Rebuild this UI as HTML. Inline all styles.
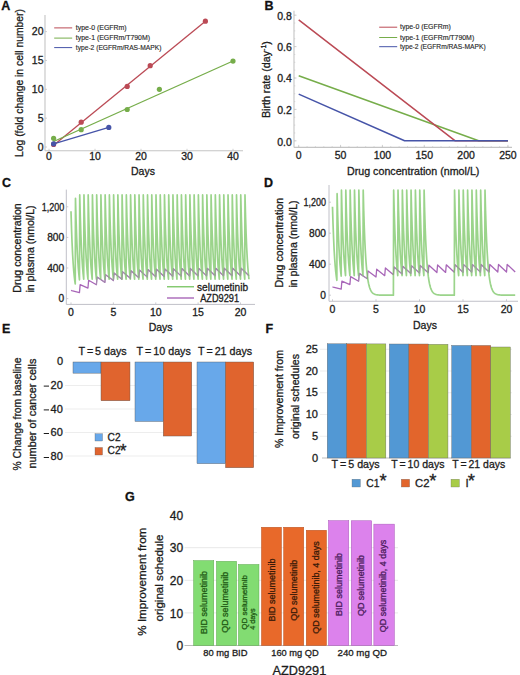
<!DOCTYPE html>
<html><head><meta charset="utf-8"><style>
html,body{margin:0;padding:0;background:#fff;width:520px;height:675px;overflow:hidden}
svg{display:block;font-family:"Liberation Sans", sans-serif}
</style></head><body>
<svg width="520" height="675" viewBox="0 0 520 675" style='font-family:"Liberation Sans", sans-serif'>
<rect width="520" height="675" fill="#fff"/>
<text x="1.30" y="9.97" font-size="12.5" fill="#111" stroke="#111" stroke-width="0.3" text-anchor="start" font-weight="bold" >A</text>
<text x="264.40" y="9.97" font-size="12.5" fill="#111" stroke="#111" stroke-width="0.3" text-anchor="start" font-weight="bold" >B</text>
<text x="2.00" y="187.47" font-size="12.5" fill="#111" stroke="#111" stroke-width="0.3" text-anchor="start" font-weight="bold" >C</text>
<text x="264.00" y="187.47" font-size="12.5" fill="#111" stroke="#111" stroke-width="0.3" text-anchor="start" font-weight="bold" >D</text>
<text x="2.00" y="333.48" font-size="12.5" fill="#111" stroke="#111" stroke-width="0.3" text-anchor="start" font-weight="bold" >E</text>
<text x="265.50" y="333.48" font-size="12.5" fill="#111" stroke="#111" stroke-width="0.3" text-anchor="start" font-weight="bold" >F</text>
<text x="125.00" y="501.48" font-size="12.5" fill="#111" stroke="#111" stroke-width="0.3" text-anchor="start" font-weight="bold" >G</text>
<line x1="45.00" y1="15.00" x2="45.00" y2="150.80" stroke="#c4c4c4" stroke-width="1.1" />
<line x1="45.00" y1="150.80" x2="243.00" y2="150.80" stroke="#c4c4c4" stroke-width="1.1" />
<text x="43.50" y="150.76" font-size="10.5" fill="#1c1c1c" stroke="#1c1c1c" stroke-width="0.3" text-anchor="end" >0</text>
<line x1="45.00" y1="147.00" x2="47.00" y2="147.00" stroke="#c4c4c4" stroke-width="0.8" />
<text x="43.50" y="122.26" font-size="10.5" fill="#1c1c1c" stroke="#1c1c1c" stroke-width="0.3" text-anchor="end" >5</text>
<line x1="45.00" y1="118.15" x2="47.00" y2="118.15" stroke="#c4c4c4" stroke-width="0.8" />
<text x="43.50" y="93.26" font-size="10.5" fill="#1c1c1c" stroke="#1c1c1c" stroke-width="0.3" text-anchor="end" >10</text>
<line x1="45.00" y1="89.30" x2="47.00" y2="89.30" stroke="#c4c4c4" stroke-width="0.8" />
<text x="43.50" y="64.26" font-size="10.5" fill="#1c1c1c" stroke="#1c1c1c" stroke-width="0.3" text-anchor="end" >15</text>
<line x1="45.00" y1="60.45" x2="47.00" y2="60.45" stroke="#c4c4c4" stroke-width="0.8" />
<text x="43.50" y="35.26" font-size="10.5" fill="#1c1c1c" stroke="#1c1c1c" stroke-width="0.3" text-anchor="end" >20</text>
<line x1="45.00" y1="31.60" x2="47.00" y2="31.60" stroke="#c4c4c4" stroke-width="0.8" />
<text x="49.00" y="160.26" font-size="10.5" fill="#1c1c1c" stroke="#1c1c1c" stroke-width="0.3" text-anchor="middle" >0</text>
<line x1="49.00" y1="150.80" x2="49.00" y2="148.80" stroke="#c4c4c4" stroke-width="0.8" />
<text x="95.00" y="160.26" font-size="10.5" fill="#1c1c1c" stroke="#1c1c1c" stroke-width="0.3" text-anchor="middle" >10</text>
<line x1="95.00" y1="150.80" x2="95.00" y2="148.80" stroke="#c4c4c4" stroke-width="0.8" />
<text x="141.00" y="160.26" font-size="10.5" fill="#1c1c1c" stroke="#1c1c1c" stroke-width="0.3" text-anchor="middle" >20</text>
<line x1="141.00" y1="150.80" x2="141.00" y2="148.80" stroke="#c4c4c4" stroke-width="0.8" />
<text x="187.00" y="160.26" font-size="10.5" fill="#1c1c1c" stroke="#1c1c1c" stroke-width="0.3" text-anchor="middle" >30</text>
<line x1="187.00" y1="150.80" x2="187.00" y2="148.80" stroke="#c4c4c4" stroke-width="0.8" />
<text x="233.00" y="160.26" font-size="10.5" fill="#1c1c1c" stroke="#1c1c1c" stroke-width="0.3" text-anchor="middle" >40</text>
<line x1="233.00" y1="150.80" x2="233.00" y2="148.80" stroke="#c4c4c4" stroke-width="0.8" />
<text x="143.00" y="174.76" font-size="10.5" fill="#1c1c1c" stroke="#1c1c1c" stroke-width="0.3" text-anchor="middle" >Days</text>
<text x="23.09" y="83.00" font-size="10.3" fill="#1c1c1c" stroke="#1c1c1c" stroke-width="0.3" text-anchor="middle" transform="rotate(-90 23.09 83.00)" textLength="148.00" lengthAdjust="spacingAndGlyphs">Log (fold change in cell number)</text>
<line x1="54.20" y1="27.90" x2="72.20" y2="27.90" stroke="#bb4a55" stroke-width="1.0" />
<line x1="54.20" y1="38.10" x2="72.20" y2="38.10" stroke="#76ad4a" stroke-width="1.0" />
<line x1="54.20" y1="47.60" x2="72.20" y2="47.60" stroke="#4654a8" stroke-width="1.0" />
<text x="75.80" y="30.01" font-size="7.3" fill="#2a2a2a" stroke="#2a2a2a" stroke-width="0.15" text-anchor="start" textLength="50.80" lengthAdjust="spacingAndGlyphs" >type-0 (EGFRm)</text>
<text x="75.80" y="40.21" font-size="7.3" fill="#2a2a2a" stroke="#2a2a2a" stroke-width="0.15" text-anchor="start" textLength="74.20" lengthAdjust="spacingAndGlyphs" >type-1 (EGFRm/T790M)</text>
<text x="75.80" y="49.71" font-size="7.3" fill="#2a2a2a" stroke="#2a2a2a" stroke-width="0.15" text-anchor="start" textLength="85.60" lengthAdjust="spacingAndGlyphs" >type-2 (EGFRm/RAS-MAPK)</text>
<line x1="53.60" y1="145.27" x2="205.40" y2="21.21" stroke="#bb4a55" stroke-width="1.3" />
<line x1="53.60" y1="141.52" x2="233.00" y2="61.03" stroke="#76ad4a" stroke-width="1.3" />
<line x1="53.60" y1="143.83" x2="108.80" y2="127.38" stroke="#4654a8" stroke-width="1.3" />
<circle cx="53.60" cy="144.40" r="2.6" fill="#bb4a55"/>
<circle cx="81.20" cy="122.19" r="2.6" fill="#bb4a55"/>
<circle cx="127.20" cy="86.42" r="2.6" fill="#bb4a55"/>
<circle cx="150.20" cy="65.64" r="2.6" fill="#bb4a55"/>
<circle cx="205.40" cy="21.21" r="2.6" fill="#bb4a55"/>
<circle cx="53.60" cy="138.34" r="2.6" fill="#76ad4a"/>
<circle cx="81.20" cy="129.69" r="2.6" fill="#76ad4a"/>
<circle cx="127.20" cy="109.50" r="2.6" fill="#76ad4a"/>
<circle cx="159.40" cy="89.30" r="2.6" fill="#76ad4a"/>
<circle cx="233.00" cy="61.03" r="2.6" fill="#76ad4a"/>
<circle cx="53.60" cy="143.83" r="2.6" fill="#4654a8"/>
<circle cx="108.80" cy="127.38" r="2.6" fill="#4654a8"/>
<line x1="294.00" y1="10.70" x2="294.00" y2="147.40" stroke="#c4c4c4" stroke-width="1.1" />
<line x1="294.00" y1="147.40" x2="512.00" y2="147.40" stroke="#c4c4c4" stroke-width="1.1" />
<text x="291.80" y="20.36" font-size="10.5" fill="#1c1c1c" stroke="#1c1c1c" stroke-width="0.3" text-anchor="end" >0.8</text>
<line x1="294.00" y1="15.20" x2="296.50" y2="15.20" stroke="#c4c4c4" stroke-width="0.8" />
<text x="291.80" y="51.16" font-size="10.5" fill="#1c1c1c" stroke="#1c1c1c" stroke-width="0.3" text-anchor="end" >0.6</text>
<line x1="294.00" y1="46.60" x2="296.50" y2="46.60" stroke="#c4c4c4" stroke-width="0.8" />
<text x="291.80" y="81.96" font-size="10.5" fill="#1c1c1c" stroke="#1c1c1c" stroke-width="0.3" text-anchor="end" >0.4</text>
<line x1="294.00" y1="78.00" x2="296.50" y2="78.00" stroke="#c4c4c4" stroke-width="0.8" />
<text x="291.80" y="113.96" font-size="10.5" fill="#1c1c1c" stroke="#1c1c1c" stroke-width="0.3" text-anchor="end" >0.2</text>
<line x1="294.00" y1="109.40" x2="296.50" y2="109.40" stroke="#c4c4c4" stroke-width="0.8" />
<text x="291.80" y="145.96" font-size="10.5" fill="#1c1c1c" stroke="#1c1c1c" stroke-width="0.3" text-anchor="end" >0.0</text>
<line x1="294.00" y1="140.80" x2="296.50" y2="140.80" stroke="#c4c4c4" stroke-width="0.8" />
<line x1="294.00" y1="140.80" x2="295.30" y2="140.80" stroke="#c4c4c4" stroke-width="0.6" />
<line x1="294.00" y1="132.95" x2="295.30" y2="132.95" stroke="#c4c4c4" stroke-width="0.6" />
<line x1="294.00" y1="125.10" x2="295.30" y2="125.10" stroke="#c4c4c4" stroke-width="0.6" />
<line x1="294.00" y1="117.25" x2="295.30" y2="117.25" stroke="#c4c4c4" stroke-width="0.6" />
<line x1="294.00" y1="109.40" x2="295.30" y2="109.40" stroke="#c4c4c4" stroke-width="0.6" />
<line x1="294.00" y1="101.55" x2="295.30" y2="101.55" stroke="#c4c4c4" stroke-width="0.6" />
<line x1="294.00" y1="93.70" x2="295.30" y2="93.70" stroke="#c4c4c4" stroke-width="0.6" />
<line x1="294.00" y1="85.85" x2="295.30" y2="85.85" stroke="#c4c4c4" stroke-width="0.6" />
<line x1="294.00" y1="78.00" x2="295.30" y2="78.00" stroke="#c4c4c4" stroke-width="0.6" />
<line x1="294.00" y1="70.15" x2="295.30" y2="70.15" stroke="#c4c4c4" stroke-width="0.6" />
<line x1="294.00" y1="62.30" x2="295.30" y2="62.30" stroke="#c4c4c4" stroke-width="0.6" />
<line x1="294.00" y1="54.45" x2="295.30" y2="54.45" stroke="#c4c4c4" stroke-width="0.6" />
<line x1="294.00" y1="46.60" x2="295.30" y2="46.60" stroke="#c4c4c4" stroke-width="0.6" />
<line x1="294.00" y1="38.75" x2="295.30" y2="38.75" stroke="#c4c4c4" stroke-width="0.6" />
<line x1="294.00" y1="30.90" x2="295.30" y2="30.90" stroke="#c4c4c4" stroke-width="0.6" />
<line x1="294.00" y1="23.05" x2="295.30" y2="23.05" stroke="#c4c4c4" stroke-width="0.6" />
<line x1="294.00" y1="15.20" x2="295.30" y2="15.20" stroke="#c4c4c4" stroke-width="0.6" />
<text x="298.70" y="158.96" font-size="10.5" fill="#1c1c1c" stroke="#1c1c1c" stroke-width="0.3" text-anchor="middle" >0</text>
<line x1="298.70" y1="147.40" x2="298.70" y2="144.90" stroke="#c4c4c4" stroke-width="0.8" />
<text x="340.55" y="158.96" font-size="10.5" fill="#1c1c1c" stroke="#1c1c1c" stroke-width="0.3" text-anchor="middle" >50</text>
<line x1="340.55" y1="147.40" x2="340.55" y2="144.90" stroke="#c4c4c4" stroke-width="0.8" />
<text x="382.40" y="158.96" font-size="10.5" fill="#1c1c1c" stroke="#1c1c1c" stroke-width="0.3" text-anchor="middle" >100</text>
<line x1="382.40" y1="147.40" x2="382.40" y2="144.90" stroke="#c4c4c4" stroke-width="0.8" />
<text x="424.25" y="158.96" font-size="10.5" fill="#1c1c1c" stroke="#1c1c1c" stroke-width="0.3" text-anchor="middle" >150</text>
<line x1="424.25" y1="147.40" x2="424.25" y2="144.90" stroke="#c4c4c4" stroke-width="0.8" />
<text x="466.10" y="158.96" font-size="10.5" fill="#1c1c1c" stroke="#1c1c1c" stroke-width="0.3" text-anchor="middle" >200</text>
<line x1="466.10" y1="147.40" x2="466.10" y2="144.90" stroke="#c4c4c4" stroke-width="0.8" />
<text x="507.95" y="158.96" font-size="10.5" fill="#1c1c1c" stroke="#1c1c1c" stroke-width="0.3" text-anchor="middle" >250</text>
<line x1="507.95" y1="147.40" x2="507.95" y2="144.90" stroke="#c4c4c4" stroke-width="0.8" />
<line x1="298.70" y1="147.40" x2="298.70" y2="146.10" stroke="#c4c4c4" stroke-width="0.6" />
<line x1="307.07" y1="147.40" x2="307.07" y2="146.10" stroke="#c4c4c4" stroke-width="0.6" />
<line x1="315.44" y1="147.40" x2="315.44" y2="146.10" stroke="#c4c4c4" stroke-width="0.6" />
<line x1="323.81" y1="147.40" x2="323.81" y2="146.10" stroke="#c4c4c4" stroke-width="0.6" />
<line x1="332.18" y1="147.40" x2="332.18" y2="146.10" stroke="#c4c4c4" stroke-width="0.6" />
<line x1="340.55" y1="147.40" x2="340.55" y2="146.10" stroke="#c4c4c4" stroke-width="0.6" />
<line x1="348.92" y1="147.40" x2="348.92" y2="146.10" stroke="#c4c4c4" stroke-width="0.6" />
<line x1="357.29" y1="147.40" x2="357.29" y2="146.10" stroke="#c4c4c4" stroke-width="0.6" />
<line x1="365.66" y1="147.40" x2="365.66" y2="146.10" stroke="#c4c4c4" stroke-width="0.6" />
<line x1="374.03" y1="147.40" x2="374.03" y2="146.10" stroke="#c4c4c4" stroke-width="0.6" />
<line x1="382.40" y1="147.40" x2="382.40" y2="146.10" stroke="#c4c4c4" stroke-width="0.6" />
<line x1="390.77" y1="147.40" x2="390.77" y2="146.10" stroke="#c4c4c4" stroke-width="0.6" />
<line x1="399.14" y1="147.40" x2="399.14" y2="146.10" stroke="#c4c4c4" stroke-width="0.6" />
<line x1="407.51" y1="147.40" x2="407.51" y2="146.10" stroke="#c4c4c4" stroke-width="0.6" />
<line x1="415.88" y1="147.40" x2="415.88" y2="146.10" stroke="#c4c4c4" stroke-width="0.6" />
<line x1="424.25" y1="147.40" x2="424.25" y2="146.10" stroke="#c4c4c4" stroke-width="0.6" />
<line x1="432.62" y1="147.40" x2="432.62" y2="146.10" stroke="#c4c4c4" stroke-width="0.6" />
<line x1="440.99" y1="147.40" x2="440.99" y2="146.10" stroke="#c4c4c4" stroke-width="0.6" />
<line x1="449.36" y1="147.40" x2="449.36" y2="146.10" stroke="#c4c4c4" stroke-width="0.6" />
<line x1="457.73" y1="147.40" x2="457.73" y2="146.10" stroke="#c4c4c4" stroke-width="0.6" />
<line x1="466.10" y1="147.40" x2="466.10" y2="146.10" stroke="#c4c4c4" stroke-width="0.6" />
<line x1="474.47" y1="147.40" x2="474.47" y2="146.10" stroke="#c4c4c4" stroke-width="0.6" />
<line x1="482.84" y1="147.40" x2="482.84" y2="146.10" stroke="#c4c4c4" stroke-width="0.6" />
<line x1="491.21" y1="147.40" x2="491.21" y2="146.10" stroke="#c4c4c4" stroke-width="0.6" />
<line x1="499.58" y1="147.40" x2="499.58" y2="146.10" stroke="#c4c4c4" stroke-width="0.6" />
<line x1="507.95" y1="147.40" x2="507.95" y2="146.10" stroke="#c4c4c4" stroke-width="0.6" />
<text x="413.20" y="174.79" font-size="10.6" fill="#1c1c1c" stroke="#1c1c1c" stroke-width="0.3" text-anchor="middle" textLength="132.40" lengthAdjust="spacingAndGlyphs" >Drug concentration (nmol/L)</text>
<text x="270.29" y="79.60" font-size="10.6" fill="#1c1c1c" stroke="#1c1c1c" stroke-width="0.3" text-anchor="middle" transform="rotate(-90 270.29 79.60)" textLength="77.00" lengthAdjust="spacingAndGlyphs">Birth rate (day<tspan font-size="7" dy="-4">-1</tspan><tspan dy="4">)</tspan></text>
<line x1="379.20" y1="27.20" x2="397.20" y2="27.20" stroke="#bb4a55" stroke-width="1.0" />
<line x1="379.20" y1="37.50" x2="397.20" y2="37.50" stroke="#76ad4a" stroke-width="1.0" />
<line x1="379.20" y1="46.70" x2="397.20" y2="46.70" stroke="#4654a8" stroke-width="1.0" />
<text x="400.00" y="29.31" font-size="7.3" fill="#2a2a2a" stroke="#2a2a2a" stroke-width="0.15" text-anchor="start" textLength="50.80" lengthAdjust="spacingAndGlyphs" >type-0 (EGFRm)</text>
<text x="400.00" y="39.61" font-size="7.3" fill="#2a2a2a" stroke="#2a2a2a" stroke-width="0.15" text-anchor="start" textLength="74.20" lengthAdjust="spacingAndGlyphs" >type-1 (EGFRm/T790M)</text>
<text x="400.00" y="48.81" font-size="7.3" fill="#2a2a2a" stroke="#2a2a2a" stroke-width="0.15" text-anchor="start" textLength="85.60" lengthAdjust="spacingAndGlyphs" >type-2 (EGFRm/RAS-MAPK)</text>
<polyline points="298.70,75.80 478.65,140.80 507.95,140.80" fill="none" stroke="#76ad4a" stroke-width="1.5" stroke-linejoin="round" />
<polyline points="298.70,19.91 455.22,140.80 507.95,140.80" fill="none" stroke="#bb4a55" stroke-width="1.5" stroke-linejoin="round" />
<polyline points="298.70,94.17 404.58,140.80 507.95,140.80" fill="none" stroke="#4654a8" stroke-width="1.5" stroke-linejoin="round" />
<line x1="66.30" y1="189.60" x2="66.30" y2="304.40" stroke="#c0c0c8" stroke-width="1.0" />
<line x1="66.30" y1="304.40" x2="255.00" y2="304.40" stroke="#c0c0c8" stroke-width="1.0" />
<text x="64.20" y="210.95" font-size="10.2" fill="#1c1c1c" stroke="#1c1c1c" stroke-width="0.3" text-anchor="end" textLength="22.50" lengthAdjust="spacingAndGlyphs" >1,200</text>
<line x1="66.30" y1="206.80" x2="68.30" y2="206.80" stroke="#c0c0c8" stroke-width="0.8" />
<text x="64.20" y="241.45" font-size="10.2" fill="#1c1c1c" stroke="#1c1c1c" stroke-width="0.3" text-anchor="end" >800</text>
<line x1="66.30" y1="237.40" x2="68.30" y2="237.40" stroke="#c0c0c8" stroke-width="0.8" />
<text x="64.20" y="271.65" font-size="10.2" fill="#1c1c1c" stroke="#1c1c1c" stroke-width="0.3" text-anchor="end" >400</text>
<line x1="66.30" y1="268.00" x2="68.30" y2="268.00" stroke="#c0c0c8" stroke-width="0.8" />
<text x="64.20" y="302.15" font-size="10.2" fill="#1c1c1c" stroke="#1c1c1c" stroke-width="0.3" text-anchor="end" >0</text>
<line x1="66.30" y1="298.60" x2="68.30" y2="298.60" stroke="#c0c0c8" stroke-width="0.8" />
<text x="71.00" y="316.26" font-size="10.5" fill="#1c1c1c" stroke="#1c1c1c" stroke-width="0.3" text-anchor="middle" >0</text>
<line x1="71.00" y1="304.40" x2="71.00" y2="302.40" stroke="#c0c0c8" stroke-width="0.8" />
<text x="113.38" y="316.26" font-size="10.5" fill="#1c1c1c" stroke="#1c1c1c" stroke-width="0.3" text-anchor="middle" >5</text>
<line x1="113.38" y1="304.40" x2="113.38" y2="302.40" stroke="#c0c0c8" stroke-width="0.8" />
<text x="155.75" y="316.26" font-size="10.5" fill="#1c1c1c" stroke="#1c1c1c" stroke-width="0.3" text-anchor="middle" >10</text>
<line x1="155.75" y1="304.40" x2="155.75" y2="302.40" stroke="#c0c0c8" stroke-width="0.8" />
<text x="198.12" y="316.26" font-size="10.5" fill="#1c1c1c" stroke="#1c1c1c" stroke-width="0.3" text-anchor="middle" >15</text>
<line x1="198.12" y1="304.40" x2="198.12" y2="302.40" stroke="#c0c0c8" stroke-width="0.8" />
<text x="240.50" y="316.26" font-size="10.5" fill="#1c1c1c" stroke="#1c1c1c" stroke-width="0.3" text-anchor="middle" >20</text>
<line x1="240.50" y1="304.40" x2="240.50" y2="302.40" stroke="#c0c0c8" stroke-width="0.8" />
<text x="160.60" y="331.36" font-size="10.5" fill="#1c1c1c" stroke="#1c1c1c" stroke-width="0.3" text-anchor="middle" >Days</text>
<text x="20.99" y="248.00" font-size="10.6" fill="#1c1c1c" stroke="#1c1c1c" stroke-width="0.3" text-anchor="middle" transform="rotate(-90 20.99 248.00)">Drug concentration</text>
<text x="33.69" y="249.00" font-size="10.6" fill="#1c1c1c" stroke="#1c1c1c" stroke-width="0.3" text-anchor="middle" transform="rotate(-90 33.69 249.00)">in plasma (nmol/L)</text>
<polyline points="71.00,290.34 71.68,290.54 79.47,292.53 80.15,284.61 87.95,288.06 88.63,280.26 96.42,284.78 97.10,277.06 104.90,282.37 105.58,274.71 113.37,280.60 114.05,272.98 121.85,279.30 122.53,271.71 130.32,278.34 131.00,270.77 138.80,277.64 139.48,270.09 147.27,277.12 147.95,269.58 155.75,276.74 156.43,269.21 164.22,276.46 164.90,268.94 172.70,276.25 173.38,268.74 181.17,276.10 181.85,268.59 189.65,275.99 190.33,268.48 198.12,275.91 198.80,268.40 206.60,275.85 207.28,268.34 215.07,275.81 215.75,268.30 223.55,275.77 224.23,268.27 232.02,275.75 232.70,268.25 240.50,275.73 241.18,268.23 248.97,275.72 248.97,275.72" fill="none" stroke="#a866b8" stroke-width="1.3" stroke-linejoin="round" />
<polyline points="71.00,211.24 71.53,228.70 72.06,242.67 72.59,253.85 73.12,262.79 73.65,269.95 74.18,275.67 74.71,280.26 75.24,283.92 75.49,198.39 76.06,219.73 76.63,236.53 77.20,249.75 77.77,260.16 78.34,268.35 78.91,274.79 79.47,279.86 79.73,194.94 80.30,217.02 80.87,234.40 81.44,248.07 82.01,258.84 82.57,267.31 83.14,273.97 83.71,279.22 83.97,194.94 84.54,217.02 85.10,234.40 85.67,248.07 86.24,258.84 86.81,267.31 87.38,273.97 87.95,279.22 88.20,194.94 88.77,217.02 89.34,234.40 89.91,248.07 90.48,258.84 91.05,267.31 91.62,273.97 92.19,279.22 92.44,194.94 93.01,217.02 93.58,234.40 94.15,248.07 94.72,258.84 95.29,267.31 95.86,273.97 96.42,279.22 96.68,194.94 97.25,217.02 97.82,234.40 98.39,248.07 98.96,258.84 99.52,267.31 100.09,273.97 100.66,279.22 100.92,194.94 101.49,217.02 102.05,234.40 102.62,248.07 103.19,258.84 103.76,267.31 104.33,273.97 104.90,279.22 105.15,194.94 105.72,217.02 106.29,234.40 106.86,248.07 107.43,258.84 108.00,267.31 108.57,273.97 109.14,279.22 109.39,194.94 109.96,217.02 110.53,234.40 111.10,248.07 111.67,258.84 112.24,267.31 112.81,273.97 113.38,279.22 113.63,194.94 114.20,217.02 114.77,234.40 115.34,248.07 115.91,258.84 116.47,267.31 117.04,273.97 117.61,279.22 117.87,194.94 118.44,217.02 119.00,234.40 119.57,248.07 120.14,258.84 120.71,267.31 121.28,273.97 121.85,279.22 122.10,194.94 122.67,217.02 123.24,234.40 123.81,248.07 124.38,258.84 124.95,267.31 125.52,273.97 126.09,279.22 126.34,194.94 126.91,217.02 127.48,234.40 128.05,248.07 128.62,258.84 129.19,267.31 129.76,273.97 130.32,279.22 130.58,194.94 131.15,217.02 131.72,234.40 132.29,248.07 132.86,258.84 133.42,267.31 133.99,273.97 134.56,279.22 134.82,194.94 135.39,217.02 135.95,234.40 136.52,248.07 137.09,258.84 137.66,267.31 138.23,273.97 138.80,279.22 139.05,194.94 139.62,217.02 140.19,234.40 140.76,248.07 141.33,258.84 141.90,267.31 142.47,273.97 143.04,279.22 143.29,194.94 143.86,217.02 144.43,234.40 145.00,248.07 145.57,258.84 146.14,267.31 146.71,273.97 147.27,279.22 147.53,194.94 148.10,217.02 148.67,234.40 149.24,248.07 149.81,258.84 150.37,267.31 150.94,273.97 151.51,279.22 151.77,194.94 152.34,217.02 152.90,234.40 153.47,248.07 154.04,258.84 154.61,267.31 155.18,273.97 155.75,279.22 156.00,194.94 156.57,217.02 157.14,234.40 157.71,248.07 158.28,258.84 158.85,267.31 159.42,273.97 159.99,279.22 160.24,194.94 160.81,217.02 161.38,234.40 161.95,248.07 162.52,258.84 163.09,267.31 163.66,273.97 164.22,279.22 164.48,194.94 165.05,217.02 165.62,234.40 166.19,248.07 166.76,258.84 167.32,267.31 167.89,273.97 168.46,279.22 168.72,194.94 169.29,217.02 169.85,234.40 170.42,248.07 170.99,258.84 171.56,267.31 172.13,273.97 172.70,279.22 172.95,194.94 173.52,217.02 174.09,234.40 174.66,248.07 175.23,258.84 175.80,267.31 176.37,273.97 176.94,279.22 177.19,194.94 177.76,217.02 178.33,234.40 178.90,248.07 179.47,258.84 180.04,267.31 180.61,273.97 181.18,279.22 181.43,194.94 182.00,217.02 182.57,234.40 183.14,248.07 183.71,258.84 184.27,267.31 184.84,273.97 185.41,279.22 185.67,194.94 186.24,217.02 186.80,234.40 187.37,248.07 187.94,258.84 188.51,267.31 189.08,273.97 189.65,279.22 189.90,194.94 190.47,217.02 191.04,234.40 191.61,248.07 192.18,258.84 192.75,267.31 193.32,273.97 193.89,279.22 194.14,194.94 194.71,217.02 195.28,234.40 195.85,248.07 196.42,258.84 196.99,267.31 197.56,273.97 198.12,279.22 198.38,194.94 198.95,217.02 199.52,234.40 200.09,248.07 200.66,258.84 201.22,267.31 201.79,273.97 202.36,279.22 202.62,194.94 203.19,217.02 203.75,234.40 204.32,248.07 204.89,258.84 205.46,267.31 206.03,273.97 206.60,279.22 206.85,194.94 207.42,217.02 207.99,234.40 208.56,248.07 209.13,258.84 209.70,267.31 210.27,273.97 210.84,279.22 211.09,194.94 211.66,217.02 212.23,234.40 212.80,248.07 213.37,258.84 213.94,267.31 214.51,273.97 215.07,279.22 215.33,194.94 215.90,217.02 216.47,234.40 217.04,248.07 217.61,258.84 218.17,267.31 218.74,273.97 219.31,279.22 219.57,194.94 220.14,217.02 220.70,234.40 221.27,248.07 221.84,258.84 222.41,267.31 222.98,273.97 223.55,279.22 223.80,194.94 224.37,217.02 224.94,234.40 225.51,248.07 226.08,258.84 226.65,267.31 227.22,273.97 227.79,279.22 228.04,194.94 228.61,217.02 229.18,234.40 229.75,248.07 230.32,258.84 230.89,267.31 231.46,273.97 232.03,279.22 232.28,194.94 232.85,217.02 233.42,234.40 233.99,248.07 234.56,258.84 235.12,267.31 235.69,273.97 236.26,279.22 236.52,194.94 237.09,217.02 237.65,234.40 238.22,248.07 238.79,258.84 239.36,267.31 239.93,273.97 240.50,279.22 240.75,194.94 241.32,217.02 241.89,234.40 242.46,248.07 243.03,258.84 243.60,267.31 244.17,273.97 244.74,279.22 244.99,194.94 245.56,217.02 246.13,234.40 246.70,248.07 247.27,258.84 247.84,267.31 248.41,273.97 248.97,279.22" fill="none" stroke="#7fc86a" stroke-width="1.7" stroke-linejoin="round" stroke-opacity="0.78"/>
<polyline points="96.42,284.78 97.10,277.06 104.90,282.37 105.58,274.71 113.37,280.60 114.05,272.98 121.85,279.30 122.53,271.71 130.32,278.34 131.00,270.77 138.80,277.64 139.48,270.09 147.27,277.12 147.95,269.58 155.75,276.74 156.43,269.21 164.22,276.46 164.90,268.94 172.70,276.25 173.38,268.74 181.17,276.10 181.85,268.59 189.65,275.99 190.33,268.48 198.12,275.91 198.80,268.40 206.60,275.85 207.28,268.34 215.07,275.81 215.75,268.30 223.55,275.77 224.23,268.27 232.02,275.75 232.70,268.25 240.50,275.73 241.18,268.23 248.97,275.72 248.97,275.72" fill="none" stroke="#a29ca8" stroke-width="1.0" stroke-linejoin="round" stroke-opacity="0.75"/>
<line x1="167.00" y1="286.75" x2="194.00" y2="286.75" stroke="#7fc86a" stroke-width="1.4" />
<line x1="167.00" y1="298.00" x2="194.00" y2="298.00" stroke="#a866b8" stroke-width="1.4" />
<text x="197.00" y="290.76" font-size="10.5" fill="#1c1c1c" stroke="#1c1c1c" stroke-width="0.3" text-anchor="start" textLength="51.00" lengthAdjust="spacingAndGlyphs" >selumetinib</text>
<text x="200.20" y="301.76" font-size="10.5" fill="#1c1c1c" stroke="#1c1c1c" stroke-width="0.3" text-anchor="start" textLength="38.80" lengthAdjust="spacingAndGlyphs" >AZD9291</text>
<line x1="329.00" y1="185.00" x2="329.00" y2="301.25" stroke="#c0c0c8" stroke-width="1.0" />
<line x1="329.00" y1="301.25" x2="518.00" y2="301.25" stroke="#c0c0c8" stroke-width="1.0" />
<text x="326.00" y="205.95" font-size="10.2" fill="#1c1c1c" stroke="#1c1c1c" stroke-width="0.3" text-anchor="end" textLength="22.50" lengthAdjust="spacingAndGlyphs" >1,200</text>
<line x1="329.00" y1="202.20" x2="331.00" y2="202.20" stroke="#c0c0c8" stroke-width="0.8" />
<text x="326.00" y="236.65" font-size="10.2" fill="#1c1c1c" stroke="#1c1c1c" stroke-width="0.3" text-anchor="end" >800</text>
<line x1="329.00" y1="233.20" x2="331.00" y2="233.20" stroke="#c0c0c8" stroke-width="0.8" />
<text x="326.00" y="268.05" font-size="10.2" fill="#1c1c1c" stroke="#1c1c1c" stroke-width="0.3" text-anchor="end" >400</text>
<line x1="329.00" y1="264.20" x2="331.00" y2="264.20" stroke="#c0c0c8" stroke-width="0.8" />
<text x="326.00" y="298.65" font-size="10.2" fill="#1c1c1c" stroke="#1c1c1c" stroke-width="0.3" text-anchor="end" >0</text>
<line x1="329.00" y1="295.20" x2="331.00" y2="295.20" stroke="#c0c0c8" stroke-width="0.8" />
<text x="332.50" y="313.26" font-size="10.5" fill="#1c1c1c" stroke="#1c1c1c" stroke-width="0.3" text-anchor="middle" >0</text>
<line x1="332.50" y1="301.25" x2="332.50" y2="299.25" stroke="#c0c0c8" stroke-width="0.8" />
<text x="376.00" y="313.26" font-size="10.5" fill="#1c1c1c" stroke="#1c1c1c" stroke-width="0.3" text-anchor="middle" >5</text>
<line x1="376.00" y1="301.25" x2="376.00" y2="299.25" stroke="#c0c0c8" stroke-width="0.8" />
<text x="419.50" y="313.26" font-size="10.5" fill="#1c1c1c" stroke="#1c1c1c" stroke-width="0.3" text-anchor="middle" >10</text>
<line x1="419.50" y1="301.25" x2="419.50" y2="299.25" stroke="#c0c0c8" stroke-width="0.8" />
<text x="463.00" y="313.26" font-size="10.5" fill="#1c1c1c" stroke="#1c1c1c" stroke-width="0.3" text-anchor="middle" >15</text>
<line x1="463.00" y1="301.25" x2="463.00" y2="299.25" stroke="#c0c0c8" stroke-width="0.8" />
<text x="506.50" y="313.26" font-size="10.5" fill="#1c1c1c" stroke="#1c1c1c" stroke-width="0.3" text-anchor="middle" >20</text>
<line x1="506.50" y1="301.25" x2="506.50" y2="299.25" stroke="#c0c0c8" stroke-width="0.8" />
<text x="425.00" y="329.26" font-size="10.5" fill="#1c1c1c" stroke="#1c1c1c" stroke-width="0.3" text-anchor="middle" >Days</text>
<text x="283.39" y="242.70" font-size="10.6" fill="#1c1c1c" stroke="#1c1c1c" stroke-width="0.3" text-anchor="middle" transform="rotate(-90 283.39 242.70)">Drug concentration</text>
<text x="297.29" y="244.00" font-size="10.6" fill="#1c1c1c" stroke="#1c1c1c" stroke-width="0.3" text-anchor="middle" transform="rotate(-90 297.29 244.00)">in plasma (nmol/L)</text>
<polyline points="332.50,286.83 333.20,287.03 341.20,289.05 341.90,281.03 349.90,284.53 350.60,276.62 358.60,281.20 359.30,273.38 367.30,278.76 368.00,270.99 376.00,276.96 376.70,269.24 384.70,275.64 385.40,267.95 393.40,274.67 394.10,267.01 402.10,273.96 402.80,266.31 410.80,273.44 411.50,265.80 419.50,273.05 420.20,265.43 428.20,272.77 428.90,265.15 436.90,272.56 437.60,264.95 445.60,272.41 446.30,264.80 454.30,272.30 455.00,264.69 463.00,272.21 463.70,264.61 471.70,272.15 472.40,264.55 480.40,272.11 481.10,264.50 489.10,272.08 489.80,264.47 497.80,272.05 498.50,264.45 506.50,272.03 507.20,264.43 515.20,272.02 515.20,272.02" fill="none" stroke="#a866b8" stroke-width="1.3" stroke-linejoin="round" />
<polyline points="332.50,206.69 333.04,224.38 333.59,238.54 334.13,249.86 334.68,258.92 335.22,266.17 335.76,271.98 336.31,276.62 336.85,280.33 337.11,193.67 337.70,215.30 338.28,232.32 338.86,245.71 339.45,256.25 340.03,264.55 340.62,271.08 341.20,276.22 341.46,190.19 342.05,212.56 342.63,230.16 343.21,244.01 343.80,254.92 344.38,263.50 344.97,270.25 345.55,275.56 345.81,190.19 346.40,212.56 346.98,230.16 347.56,244.01 348.15,254.92 348.73,263.50 349.32,270.25 349.90,275.56 350.16,190.19 350.75,212.56 351.33,230.16 351.91,244.01 352.50,254.92 353.08,263.50 353.67,270.25 354.25,275.56 354.51,190.19 355.10,212.56 355.68,230.16 356.26,244.01 356.85,254.92 357.43,263.50 358.02,270.25 358.60,275.56 358.86,190.19 359.45,212.56 360.03,230.16 360.61,244.01 361.20,254.92 361.78,263.50 362.37,270.25 362.95,275.56 363.21,190.19 363.74,210.69 364.27,227.19 364.80,240.46 365.33,251.15 365.86,259.75 366.39,266.67 366.92,272.24 367.45,276.72 367.98,280.33 368.51,283.23 369.04,285.57 369.57,287.45 370.10,288.96 370.63,290.18 371.16,291.16 371.69,291.95 372.21,292.58 372.74,293.09 373.27,293.51 373.80,293.84 374.33,294.10 374.86,294.32 375.39,294.49 375.92,294.63 376.45,294.74 376.98,294.83 377.51,294.90 378.04,294.96 378.57,295.01 379.10,295.04 379.63,295.07 380.16,295.10 380.69,295.12 381.22,295.13 381.75,295.15 382.28,295.16 382.81,295.17 383.34,295.17 383.87,295.18 384.40,295.18 384.93,295.19 385.46,295.19 385.99,295.19 386.51,295.19 387.04,295.19 387.57,295.20 388.10,295.20 388.63,295.20 389.16,295.20 389.69,295.20 390.22,295.20 390.75,295.20 391.28,295.20 391.81,295.20 392.34,295.20 392.87,295.20 393.40,295.20 393.66,190.19 394.25,212.56 394.83,230.16 395.41,244.01 396.00,254.92 396.58,263.50 397.17,270.25 397.75,275.56 398.01,190.19 398.60,212.56 399.18,230.16 399.76,244.01 400.35,254.92 400.93,263.50 401.52,270.25 402.10,275.56 402.36,190.19 402.95,212.56 403.53,230.16 404.11,244.01 404.70,254.92 405.28,263.50 405.87,270.25 406.45,275.56 406.71,190.19 407.30,212.56 407.88,230.16 408.46,244.01 409.05,254.92 409.63,263.50 410.22,270.25 410.80,275.56 411.06,190.19 411.65,212.56 412.23,230.16 412.81,244.01 413.40,254.92 413.98,263.50 414.57,270.25 415.15,275.56 415.41,190.19 416.00,212.56 416.58,230.16 417.16,244.01 417.75,254.92 418.33,263.50 418.92,270.25 419.50,275.56 419.76,190.19 420.35,212.56 420.93,230.16 421.51,244.01 422.10,254.92 422.68,263.50 423.27,270.25 423.85,275.56 424.11,190.19 424.64,210.69 425.17,227.19 425.70,240.46 426.23,251.15 426.76,259.75 427.29,266.67 427.82,272.24 428.35,276.72 428.88,280.33 429.41,283.23 429.94,285.57 430.47,287.45 431.00,288.96 431.53,290.18 432.06,291.16 432.59,291.95 433.11,292.58 433.64,293.09 434.17,293.51 434.70,293.84 435.23,294.10 435.76,294.32 436.29,294.49 436.82,294.63 437.35,294.74 437.88,294.83 438.41,294.90 438.94,294.96 439.47,295.01 440.00,295.04 440.53,295.07 441.06,295.10 441.59,295.12 442.12,295.13 442.65,295.15 443.18,295.16 443.71,295.17 444.24,295.17 444.77,295.18 445.30,295.18 445.83,295.19 446.36,295.19 446.89,295.19 447.41,295.19 447.94,295.19 448.47,295.20 449.00,295.20 449.53,295.20 450.06,295.20 450.59,295.20 451.12,295.20 451.65,295.20 452.18,295.20 452.71,295.20 453.24,295.20 453.77,295.20 454.30,295.20 454.56,190.19 455.15,212.56 455.73,230.16 456.31,244.01 456.90,254.92 457.48,263.50 458.07,270.25 458.65,275.56 458.91,190.19 459.50,212.56 460.08,230.16 460.66,244.01 461.25,254.92 461.83,263.50 462.42,270.25 463.00,275.56 463.26,190.19 463.85,212.56 464.43,230.16 465.01,244.01 465.60,254.92 466.18,263.50 466.77,270.25 467.35,275.56 467.61,190.19 468.20,212.56 468.78,230.16 469.36,244.01 469.95,254.92 470.53,263.50 471.12,270.25 471.70,275.56 471.96,190.19 472.55,212.56 473.13,230.16 473.71,244.01 474.30,254.92 474.88,263.50 475.47,270.25 476.05,275.56 476.31,190.19 476.90,212.56 477.48,230.16 478.06,244.01 478.65,254.92 479.23,263.50 479.82,270.25 480.40,275.56 480.66,190.19 481.25,212.56 481.83,230.16 482.41,244.01 483.00,254.92 483.58,263.50 484.17,270.25 484.75,275.56 485.01,190.19 485.54,210.69 486.07,227.19 486.60,240.46 487.13,251.15 487.66,259.75 488.19,266.67 488.72,272.24 489.25,276.72 489.78,280.33 490.31,283.23 490.84,285.57 491.37,287.45 491.90,288.96 492.43,290.18 492.96,291.16 493.49,291.95 494.01,292.58 494.54,293.09 495.07,293.51 495.60,293.84 496.13,294.10 496.66,294.32 497.19,294.49 497.72,294.63 498.25,294.74 498.78,294.83 499.31,294.90 499.84,294.96 500.37,295.01 500.90,295.04 501.43,295.07 501.96,295.10 502.49,295.12 503.02,295.13 503.55,295.15 504.08,295.16 504.61,295.17 505.14,295.17 505.67,295.18 506.20,295.18 506.73,295.19 507.26,295.19 507.79,295.19 508.31,295.19 508.84,295.19 509.37,295.20 509.90,295.20 510.43,295.20 510.96,295.20 511.49,295.20 512.02,295.20 512.55,295.20 513.08,295.20 513.61,295.20 514.14,295.20 514.67,295.20 515.20,295.20" fill="none" stroke="#7fc86a" stroke-width="1.7" stroke-linejoin="round" stroke-opacity="0.78"/>
<polyline points="358.60,281.20 359.30,273.38 367.30,278.76" fill="none" stroke="#a29ca8" stroke-width="1.0" stroke-linejoin="round" stroke-opacity="0.75"/>
<polyline points="394.10,267.01 402.10,273.96 402.80,266.31 410.80,273.44 411.50,265.80 419.50,273.05 420.20,265.43 428.20,272.77" fill="none" stroke="#a29ca8" stroke-width="1.0" stroke-linejoin="round" stroke-opacity="0.75"/>
<polyline points="455.00,264.69 463.00,272.21 463.70,264.61 471.70,272.15 472.40,264.55 480.40,272.11 481.10,264.50 489.10,272.08" fill="none" stroke="#a29ca8" stroke-width="1.0" stroke-linejoin="round" stroke-opacity="0.75"/>
<line x1="65.00" y1="385.50" x2="257.00" y2="385.50" stroke="#ededed" stroke-width="1.0" />
<line x1="65.00" y1="409.00" x2="257.00" y2="409.00" stroke="#ededed" stroke-width="1.0" />
<line x1="65.00" y1="432.50" x2="257.00" y2="432.50" stroke="#ededed" stroke-width="1.0" />
<line x1="65.00" y1="456.00" x2="257.00" y2="456.00" stroke="#ededed" stroke-width="1.0" />
<text x="63.00" y="365.24" font-size="11" fill="#1c1c1c" stroke="#1c1c1c" stroke-width="0.3" text-anchor="end" >0</text>
<text x="62.80" y="388.94" font-size="11" fill="#1c1c1c" stroke="#1c1c1c" stroke-width="0.3" text-anchor="end" >20</text>
<rect x="43.75" y="385.60" width="5.25" height="1.00" fill="#1c1c1c"/>
<text x="62.80" y="412.74" font-size="11" fill="#1c1c1c" stroke="#1c1c1c" stroke-width="0.3" text-anchor="end" >40</text>
<rect x="43.75" y="409.40" width="5.25" height="1.00" fill="#1c1c1c"/>
<text x="62.80" y="436.34" font-size="11" fill="#1c1c1c" stroke="#1c1c1c" stroke-width="0.3" text-anchor="end" >60</text>
<rect x="43.75" y="433.00" width="5.25" height="1.00" fill="#1c1c1c"/>
<text x="62.80" y="460.34" font-size="11" fill="#1c1c1c" stroke="#1c1c1c" stroke-width="0.3" text-anchor="end" >80</text>
<rect x="43.75" y="457.00" width="5.25" height="1.00" fill="#1c1c1c"/>
<rect x="73.00" y="362.00" width="28.00" height="11.16" fill="#68a8ea" stroke="#555" stroke-width="0.4"/>
<rect x="101.00" y="362.00" width="29.00" height="38.77" fill="#e0642e" stroke="#555" stroke-width="0.4"/>
<rect x="135.00" y="362.00" width="28.25" height="59.45" fill="#68a8ea" stroke="#555" stroke-width="0.4"/>
<rect x="163.25" y="362.00" width="28.50" height="74.02" fill="#e0642e" stroke="#555" stroke-width="0.4"/>
<rect x="197.00" y="362.00" width="28.50" height="101.64" fill="#68a8ea" stroke="#555" stroke-width="0.4"/>
<rect x="225.50" y="362.00" width="28.25" height="105.75" fill="#e0642e" stroke="#555" stroke-width="0.4"/>
<text x="78.40" y="355.34" font-size="11" fill="#1c1c1c" stroke="#1c1c1c" stroke-width="0.3" text-anchor="start" textLength="48.30" lengthAdjust="spacingAndGlyphs" >T<tspan dx="2">=</tspan><tspan dx="2">5</tspan> days</text>
<text x="136.60" y="355.34" font-size="11" fill="#1c1c1c" stroke="#1c1c1c" stroke-width="0.3" text-anchor="start" textLength="54.20" lengthAdjust="spacingAndGlyphs" >T<tspan dx="2">=</tspan><tspan dx="2">10</tspan> days</text>
<text x="197.95" y="355.34" font-size="11" fill="#1c1c1c" stroke="#1c1c1c" stroke-width="0.3" text-anchor="start" textLength="54.15" lengthAdjust="spacingAndGlyphs" >T<tspan dx="2">=</tspan><tspan dx="2">21</tspan> days</text>
<rect x="95.00" y="433.75" width="7.50" height="7.25" fill="#68a8ea" stroke="#555" stroke-width="0.3"/>
<rect x="95.00" y="447.50" width="7.50" height="7.50" fill="#e0642e" stroke="#555" stroke-width="0.3"/>
<text x="107.60" y="440.99" font-size="10.3" fill="#1c1c1c" stroke="#1c1c1c" stroke-width="0.3" text-anchor="start" textLength="13.00" lengthAdjust="spacingAndGlyphs" >C2</text>
<text x="107.60" y="454.19" font-size="10.3" fill="#1c1c1c" stroke="#1c1c1c" stroke-width="0.3" text-anchor="start" textLength="13.00" lengthAdjust="spacingAndGlyphs" >C2</text>
<text x="119.75" y="456.77" font-size="17.5" fill="#1c1c1c" stroke="#1c1c1c" stroke-width="0.3" text-anchor="start" >*</text>
<text x="21.12" y="414.00" font-size="10.8" fill="#1c1c1c" stroke="#1c1c1c" stroke-width="0.3" text-anchor="middle" transform="rotate(-90 21.12 414.00)" textLength="113.00" lengthAdjust="spacingAndGlyphs">% Change from baseline</text>
<text x="36.47" y="413.60" font-size="10.8" fill="#1c1c1c" stroke="#1c1c1c" stroke-width="0.3" text-anchor="middle" transform="rotate(-90 36.47 413.60)" textLength="110.00" lengthAdjust="spacingAndGlyphs">number of cancer cells</text>
<line x1="320.00" y1="436.25" x2="512.00" y2="436.25" stroke="#ededed" stroke-width="1.0" />
<line x1="320.00" y1="414.50" x2="512.00" y2="414.50" stroke="#ededed" stroke-width="1.0" />
<line x1="320.00" y1="392.75" x2="512.00" y2="392.75" stroke="#ededed" stroke-width="1.0" />
<line x1="320.00" y1="371.00" x2="512.00" y2="371.00" stroke="#ededed" stroke-width="1.0" />
<line x1="320.00" y1="349.25" x2="512.00" y2="349.25" stroke="#ededed" stroke-width="1.0" />
<line x1="322.00" y1="458.00" x2="511.00" y2="458.00" stroke="#bdbdbd" stroke-width="1.0" />
<text x="318.00" y="353.44" font-size="11" fill="#1c1c1c" stroke="#1c1c1c" stroke-width="0.3" text-anchor="end" >25</text>
<text x="318.00" y="375.19" font-size="11" fill="#1c1c1c" stroke="#1c1c1c" stroke-width="0.3" text-anchor="end" >20</text>
<text x="318.00" y="396.44" font-size="11" fill="#1c1c1c" stroke="#1c1c1c" stroke-width="0.3" text-anchor="end" >15</text>
<text x="318.00" y="418.19" font-size="11" fill="#1c1c1c" stroke="#1c1c1c" stroke-width="0.3" text-anchor="end" >10</text>
<text x="318.00" y="440.19" font-size="11" fill="#1c1c1c" stroke="#1c1c1c" stroke-width="0.3" text-anchor="end" >5</text>
<text x="318.00" y="461.94" font-size="11" fill="#1c1c1c" stroke="#1c1c1c" stroke-width="0.3" text-anchor="end" >0</text>
<rect x="327.20" y="343.80" width="19.55" height="114.20" fill="#5298d4" stroke="#666" stroke-width="0.4"/>
<rect x="346.75" y="343.80" width="19.55" height="114.20" fill="#e2652c" stroke="#666" stroke-width="0.4"/>
<rect x="366.30" y="343.90" width="19.55" height="114.10" fill="#a8cc48" stroke="#666" stroke-width="0.4"/>
<rect x="389.30" y="344.00" width="19.55" height="114.00" fill="#5298d4" stroke="#666" stroke-width="0.4"/>
<rect x="408.85" y="344.00" width="19.55" height="114.00" fill="#e2652c" stroke="#666" stroke-width="0.4"/>
<rect x="428.40" y="344.30" width="19.55" height="113.70" fill="#a8cc48" stroke="#666" stroke-width="0.4"/>
<rect x="451.70" y="345.40" width="19.55" height="112.60" fill="#5298d4" stroke="#666" stroke-width="0.4"/>
<rect x="471.25" y="345.40" width="19.55" height="112.60" fill="#e2652c" stroke="#666" stroke-width="0.4"/>
<rect x="490.80" y="347.00" width="19.55" height="111.00" fill="#a8cc48" stroke="#666" stroke-width="0.4"/>
<text x="331.60" y="468.34" font-size="11" fill="#1c1c1c" stroke="#1c1c1c" stroke-width="0.3" text-anchor="start" textLength="48.10" lengthAdjust="spacingAndGlyphs" >T<tspan dx="2">=</tspan><tspan dx="2">5</tspan> days</text>
<text x="391.20" y="468.34" font-size="11" fill="#1c1c1c" stroke="#1c1c1c" stroke-width="0.3" text-anchor="start" textLength="53.25" lengthAdjust="spacingAndGlyphs" >T<tspan dx="2">=</tspan><tspan dx="2">10</tspan> days</text>
<text x="452.20" y="468.34" font-size="11" fill="#1c1c1c" stroke="#1c1c1c" stroke-width="0.3" text-anchor="start" textLength="53.00" lengthAdjust="spacingAndGlyphs" >T<tspan dx="2">=</tspan><tspan dx="2">21</tspan> days</text>
<rect x="352.00" y="479.20" width="8.40" height="7.80" fill="#5298d4" stroke="#666" stroke-width="0.3"/>
<text x="366.25" y="486.92" font-size="11.5" fill="#1c1c1c" stroke="#1c1c1c" stroke-width="0.3" text-anchor="start" textLength="13.20" lengthAdjust="spacingAndGlyphs" >C1</text>
<rect x="401.25" y="479.20" width="8.40" height="7.80" fill="#e2652c" stroke="#666" stroke-width="0.3"/>
<text x="415.00" y="486.92" font-size="11.5" fill="#1c1c1c" stroke="#1c1c1c" stroke-width="0.3" text-anchor="start" textLength="14.40" lengthAdjust="spacingAndGlyphs" >C2</text>
<rect x="451.00" y="479.20" width="8.40" height="7.80" fill="#a8cc48" stroke="#666" stroke-width="0.3"/>
<text x="465.60" y="486.92" font-size="11.5" fill="#1c1c1c" stroke="#1c1c1c" stroke-width="0.3" text-anchor="start" textLength="3.20" lengthAdjust="spacingAndGlyphs" >I</text>
<text x="379.53" y="487.26" font-size="18.5" fill="#1c1c1c" stroke="#1c1c1c" stroke-width="0.3" text-anchor="start" >*</text>
<text x="429.23" y="487.26" font-size="18.5" fill="#1c1c1c" stroke="#1c1c1c" stroke-width="0.3" text-anchor="start" >*</text>
<text x="467.83" y="487.26" font-size="18.5" fill="#1c1c1c" stroke="#1c1c1c" stroke-width="0.3" text-anchor="start" >*</text>
<text x="283.29" y="399.00" font-size="10.6" fill="#1c1c1c" stroke="#1c1c1c" stroke-width="0.3" text-anchor="middle" transform="rotate(-90 283.29 399.00)" textLength="98.00" lengthAdjust="spacingAndGlyphs">% Improvement from</text>
<text x="299.09" y="396.50" font-size="10.6" fill="#1c1c1c" stroke="#1c1c1c" stroke-width="0.3" text-anchor="middle" transform="rotate(-90 299.09 396.50)" textLength="85.00" lengthAdjust="spacingAndGlyphs">original schedules</text>
<line x1="184.50" y1="612.90" x2="398.00" y2="612.90" stroke="#e8e8e8" stroke-width="1.0" />
<line x1="184.50" y1="580.30" x2="398.00" y2="580.30" stroke="#e8e8e8" stroke-width="1.0" />
<line x1="184.50" y1="547.70" x2="398.00" y2="547.70" stroke="#e8e8e8" stroke-width="1.0" />
<line x1="184.50" y1="645.50" x2="398.00" y2="645.50" stroke="#bbbbbb" stroke-width="1.0" />
<text x="183.10" y="650.10" font-size="12" fill="#1c1c1c" stroke="#1c1c1c" stroke-width="0.3" text-anchor="end" >0</text>
<text x="183.10" y="617.50" font-size="12" fill="#1c1c1c" stroke="#1c1c1c" stroke-width="0.3" text-anchor="end" >10</text>
<text x="183.10" y="584.90" font-size="12" fill="#1c1c1c" stroke="#1c1c1c" stroke-width="0.3" text-anchor="end" >20</text>
<text x="183.10" y="552.30" font-size="12" fill="#1c1c1c" stroke="#1c1c1c" stroke-width="0.3" text-anchor="end" >30</text>
<text x="183.10" y="519.70" font-size="12" fill="#1c1c1c" stroke="#1c1c1c" stroke-width="0.3" text-anchor="end" >40</text>
<rect x="193.65" y="560.65" width="20.10" height="84.85" fill="#82dc72" stroke="#5aa84a" stroke-width="0.5"/>
<text x="207.12" y="602.40" font-size="9" fill="#1f5a14" stroke="#1f5a14" stroke-width="0.3" text-anchor="middle" transform="rotate(-90 207.12 602.40)" textLength="63.00" lengthAdjust="spacingAndGlyphs">BID selumetinib</text>
<rect x="216.45" y="561.35" width="20.10" height="84.15" fill="#82dc72" stroke="#5aa84a" stroke-width="0.5"/>
<text x="228.42" y="602.30" font-size="9" fill="#1f5a14" stroke="#1f5a14" stroke-width="0.3" text-anchor="middle" transform="rotate(-90 228.42 602.30)" textLength="61.00" lengthAdjust="spacingAndGlyphs">QD selumetinib</text>
<rect x="238.45" y="564.50" width="20.50" height="81.00" fill="#82dc72" stroke="#5aa84a" stroke-width="0.5"/>
<text x="246.76" y="629.7" font-size="8" fill="#1f5a14" stroke="#1f5a14" stroke-width="0.3" text-anchor="start" textLength="54.7" lengthAdjust="spacingAndGlyphs" transform="rotate(-90 246.76 629.7)">QD selumetinib</text>
<text x="255.46" y="629.7" font-size="8" fill="#1f5a14" stroke="#1f5a14" stroke-width="0.3" text-anchor="start" textLength="21.3" lengthAdjust="spacingAndGlyphs" transform="rotate(-90 255.46 629.7)">4 days</text>
<rect x="261.45" y="527.25" width="20.00" height="118.25" fill="#e8692a" stroke="#b85020" stroke-width="0.5"/>
<text x="274.82" y="590.00" font-size="9" fill="#3a1a08" stroke="#3a1a08" stroke-width="0.3" text-anchor="middle" transform="rotate(-90 274.82 590.00)" textLength="63.00" lengthAdjust="spacingAndGlyphs">BID selumetinib</text>
<rect x="283.65" y="527.25" width="20.10" height="118.25" fill="#e8692a" stroke="#b85020" stroke-width="0.5"/>
<text x="296.82" y="590.30" font-size="9" fill="#3a1a08" stroke="#3a1a08" stroke-width="0.3" text-anchor="middle" transform="rotate(-90 296.82 590.30)" textLength="61.00" lengthAdjust="spacingAndGlyphs">QD selumetinib</text>
<rect x="306.25" y="530.25" width="20.20" height="115.25" fill="#e8692a" stroke="#b85020" stroke-width="0.5"/>
<text x="318.72" y="587.50" font-size="9" fill="#3a1a08" stroke="#3a1a08" stroke-width="0.3" text-anchor="middle" transform="rotate(-90 318.72 587.50)" textLength="92.30" lengthAdjust="spacingAndGlyphs">QD selumetinib, 4 days</text>
<rect x="328.45" y="520.65" width="20.30" height="124.85" fill="#dc82ec" stroke="#a858b8" stroke-width="0.5"/>
<text x="341.72" y="584.50" font-size="9" fill="#4a1a5a" stroke="#4a1a5a" stroke-width="0.3" text-anchor="middle" transform="rotate(-90 341.72 584.50)" textLength="63.00" lengthAdjust="spacingAndGlyphs">BID selumetinib</text>
<rect x="351.25" y="520.75" width="20.40" height="124.75" fill="#dc82ec" stroke="#a858b8" stroke-width="0.5"/>
<text x="363.92" y="585.50" font-size="9" fill="#4a1a5a" stroke="#4a1a5a" stroke-width="0.3" text-anchor="middle" transform="rotate(-90 363.92 585.50)" textLength="61.00" lengthAdjust="spacingAndGlyphs">QD selumetinib</text>
<rect x="373.85" y="524.15" width="20.50" height="121.35" fill="#dc82ec" stroke="#a858b8" stroke-width="0.5"/>
<text x="386.22" y="586.00" font-size="9" fill="#4a1a5a" stroke="#4a1a5a" stroke-width="0.3" text-anchor="middle" transform="rotate(-90 386.22 586.00)" textLength="92.30" lengthAdjust="spacingAndGlyphs">QD selumetinib, 4 days</text>
<text x="225.38" y="656.40" font-size="9.5" fill="#1c1c1c" stroke="#1c1c1c" stroke-width="0.3" text-anchor="middle" textLength="44.25" lengthAdjust="spacingAndGlyphs" >80 mg BID</text>
<text x="295.00" y="656.40" font-size="9.5" fill="#1c1c1c" stroke="#1c1c1c" stroke-width="0.3" text-anchor="middle" textLength="47.50" lengthAdjust="spacingAndGlyphs" >160 mg QD</text>
<text x="362.25" y="656.40" font-size="9.5" fill="#1c1c1c" stroke="#1c1c1c" stroke-width="0.3" text-anchor="middle" textLength="49.50" lengthAdjust="spacingAndGlyphs" >240 mg QD</text>
<text x="299.40" y="674.65" font-size="13" fill="#1c1c1c" stroke="#1c1c1c" stroke-width="0.3" text-anchor="middle" textLength="53.75" lengthAdjust="spacingAndGlyphs" >AZD9291</text>
<text x="146.05" y="581.70" font-size="11.6" fill="#1c1c1c" stroke="#1c1c1c" stroke-width="0.3" text-anchor="middle" transform="rotate(-90 146.05 581.70)" textLength="108.00" lengthAdjust="spacingAndGlyphs">% Improvement from</text>
<text x="163.05" y="578.00" font-size="11.6" fill="#1c1c1c" stroke="#1c1c1c" stroke-width="0.3" text-anchor="middle" transform="rotate(-90 163.05 578.00)" textLength="87.00" lengthAdjust="spacingAndGlyphs">original schedule</text>
</svg>
</body></html>
